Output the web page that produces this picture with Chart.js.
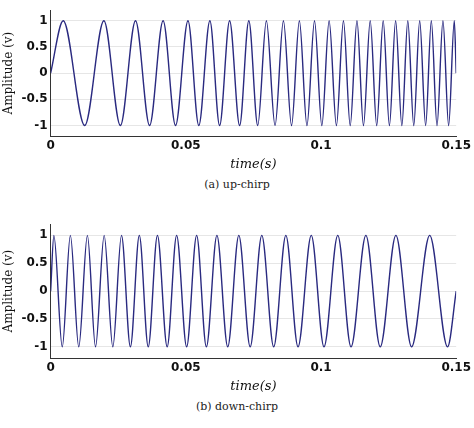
<!DOCTYPE html>
<html>
<head>
<meta charset="utf-8">
<script src="https://cdn.jsdelivr.net/npm/chart.js@4"></script>
<style>
  body { margin: 0; background: #fff; width: 474px; height: 428px; position: relative; overflow: hidden; }
  .box { position: absolute; left: 0; width: 474px; }
  .cap { position: absolute; left: 0; width: 474px; text-align: center; font-family: "DejaVu Serif", serif; font-size: 11px; color: #222; }
</style>
</head>
<body>
<div class="box" style="top:0;height:176px"><canvas id="up"></canvas></div>
<div class="cap" style="top:178px">(a) up-chirp</div>
<div class="box" style="top:214px;height:184px"><canvas id="down"></canvas></div>
<div class="cap" style="top:400px">(b) down-chirp</div>
<script>
// Extrema (time in s)
const upPeaks = [0.00465, 0.0197, 0.0314, 0.0416, 0.0508, 0.0589, 0.0662, 0.0733, 0.0798, 0.0861, 0.0920, 0.0976,
  0.1030, 0.1083, 0.1133, 0.1182, 0.1230, 0.1276, 0.1321, 0.1365, 0.1408, 0.1451, 0.1493];
const upTroughs = [0.0126, 0.0258, 0.0366, 0.0462, 0.0548, 0.0625, 0.0699, 0.0766, 0.0830, 0.0891, 0.0948,
  0.1003, 0.1057, 0.1108, 0.1157, 0.1206, 0.1253, 0.1299, 0.1343, 0.1387, 0.1429, 0.1472];
const downPeaks = [0.0012, 0.0073, 0.0136, 0.0198, 0.0262, 0.0328, 0.0395, 0.0466, 0.0540, 0.0615, 0.0696,
  0.0781, 0.0870, 0.0964, 0.1062, 0.1166, 0.1277, 0.1402];
const downTroughs = [0.0043, 0.0104, 0.0166, 0.0230, 0.0295, 0.0361, 0.0431, 0.0503, 0.0576, 0.0655, 0.0738,
  0.0825, 0.0915, 0.1011, 0.1111, 0.1219, 0.1335, 0.1468];
const endPoints = [0, 0.15]; // both signals are 0 at start and end
const yTicks = [-1, -0.5, 0, 0.5, 1];
const xTicks = [0, 0.05, 0.1, 0.15];

function series(peaks, troughs) {
  const pts = endPoints.map(t => ({ x: t, y: 0 }))
    .concat(peaks.map(t => ({ x: t, y: 1 })))
    .concat(troughs.map(t => ({ x: t, y: -1 })));
  return pts.sort((a, b) => a.x - b.x);
}

const tickFont = { family: 'DejaVu Sans', size: 12, weight: 'bold' };

function makeChart(id, data) {
  new Chart(document.getElementById(id), {
    type: 'line',
    data: { datasets: [{
      data: data, borderColor: '#2a2a80', borderWidth: 1.4, pointRadius: 0,
      cubicInterpolationMode: 'monotone', fill: false
    }]},
    options: {
      responsive: true, maintainAspectRatio: false, animation: false,
      layout: { padding: { left: 0, right: 9, top: 4, bottom: 0 } },
      plugins: { legend: { display: false }, tooltip: { enabled: false } },
      scales: {
        x: {
          type: 'linear', min: 0, max: 0.15,
          afterBuildTicks: s => { s.ticks = xTicks.map(v => ({ value: v })); },
          ticks: { color: '#111', font: tickFont, callback: v => String(+v.toFixed(2)) },
          grid: { display: false, drawTicks: false },
          border: { color: '#333' },
          title: { display: true, text: 'time(s)', color: '#111', padding: { top: 0 },
            font: { family: 'DejaVu Serif', size: 13, style: 'italic' } }
        },
        y: {
          min: -1.2, max: 1.2,
          afterBuildTicks: s => { s.ticks = yTicks.map(v => ({ value: v })); },
          ticks: { color: '#111', font: tickFont, callback: v => String(v) },
          grid: { color: '#e6e6e6', drawTicks: false },
          border: { color: '#333' },
          title: { display: true, text: 'Amplitude (v)', color: '#111', padding: 2,
            font: { family: 'DejaVu Serif', size: 12 } }
        }
      }
    }
  });
}

makeChart('up', series(upPeaks, upTroughs));
makeChart('down', series(downPeaks, downTroughs));
</script>
</body>
</html>
